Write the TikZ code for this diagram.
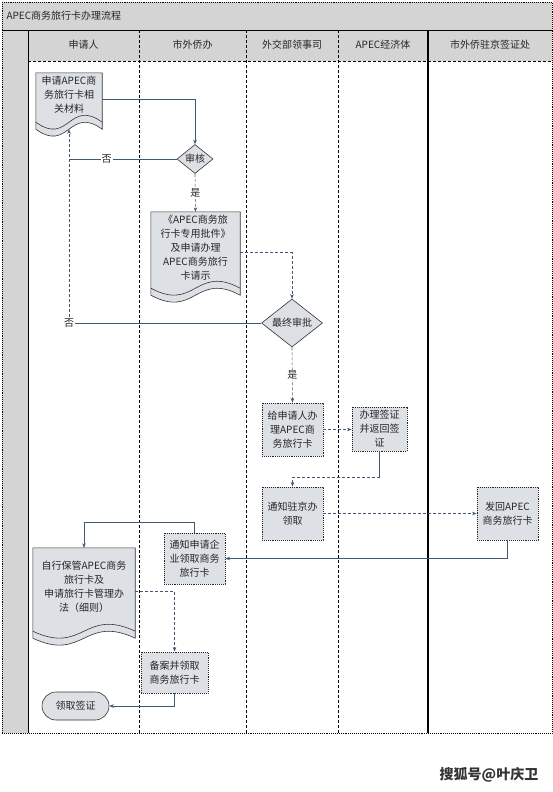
\documentclass[tikz,border=0pt]{standalone}
\usepackage{fontspec}
\setmainfont{Noto Sans CJK SC}
\usetikzlibrary{calc,arrows.meta,shapes.geometric}

\definecolor{panelgray}{RGB}{212,212,212}
\definecolor{boxgray}{RGB}{221,225,229}
\definecolor{flowline}{RGB}{64,88,116}

\pgfdeclarelayer{background}
\pgfsetlayers{background,main}

% wavy document outline drawn round a node
\newcommand{\docshape}[1]{%
  \filldraw[draw=black!80, fill=boxgray, line width=0.6pt]
    (#1.north west) -- (#1.north east) -- ([yshift=-12pt]#1.south east)
    .. controls ([yshift=12pt]#1.south) and ([yshift=-36pt]#1.south) .. ([yshift=-12pt]#1.south west) -- cycle;
  \draw[black!80, line width=0.6pt]
    ([yshift=-5pt]#1.south east)
    .. controls ([yshift=19pt]#1.south) and ([yshift=-29pt]#1.south) .. ([yshift=-5pt]#1.south west);
}

\begin{document}
\begin{tikzpicture}[x=1pt, y=-1pt, >={Stealth[length=4.5pt,width=3.5pt]},
    every node/.style={font=\fontsize{10pt}{14pt}\selectfont, text=black!85},
    proc/.style={draw=black!85, densely dotted, line width=0.9pt, fill=boxgray, align=center, inner sep=1pt},
    doc/.style={align=center, inner sep=0pt},
    decision/.style={diamond, draw=black!80, line width=0.6pt, fill=boxgray, inner sep=0pt},
    term/.style={draw=black!80, line width=0.6pt, fill=boxgray, rounded corners=14pt},
    flow/.style={draw=flowline, line width=0.6pt},
    dflow/.style={flow, densely dashed},
    lbl/.style={fill=white, inner sep=1pt},
    lane/.style={line width=0.9pt, densely dashed}]

    \useasboundingbox (0,0) rectangle (553,792);

    % Swimlane frame
    \begin{pgfonlayer}{background}
        \fill[white] (0,0) rectangle (553,792);
        \fill[panelgray] (2,2) rectangle (552,30);
        \fill[panelgray] (2,30) rectangle (28,733);
        \fill[panelgray] (28,30) rectangle (552,61);
        \draw[densely dotted, line width=0.9pt] (2,2) rectangle (552,733);
        \draw[line width=0.9pt] (2,30) -- (552,30);
        \draw[line width=0.9pt] (28,30) -- (28,733);
        \draw[lane] (28,61) -- (552,61);
        \foreach \x in {139,246,338}
            \draw[lane] (\x,30) -- (\x,733);
        \draw[line width=1.2pt] (428,30) -- (428,733);
    \end{pgfonlayer}

    % Title and lane headers
    \node[anchor=west] (title) at (3,16) {APEC商务旅行卡办理流程};
    \node (lane1) at (83.5,45) {申请人};
    \node (lane2) at (192.5,45) {市外侨办};
    \node (lane3) at (292,45) {外交部领事司};
    \node (lane4) at (383,45) {APEC经济体};
    \node (lane5) at (490,45) {市外侨驻京签证处};

    % Steps
    \node[doc, minimum width=66pt, minimum height=44pt] (apply) at (69,95)
        {申请APEC商\\务旅行卡相\\关材料};
    \node[decision, minimum width=36pt, minimum height=29pt, shape aspect=1.24] (review) at (195,159) {审核};
    \node[doc, minimum width=89pt, minimum height=71pt] (permit) at (195.5,247.5)
        {《APEC商务旅\\行卡专用批件》\\及申请办理\\APEC商务旅行\\卡请示};
    \node[decision, minimum width=61pt, minimum height=48pt, shape aspect=1.27] (approve) at (292,323) {最终审批};
    \node[proc, minimum width=61pt, minimum height=53pt] (issue) at (292.5,429.5)
        {给申请人办\\理APEC商\\务旅行卡};
    \node[proc, minimum width=55pt, minimum height=44pt] (visa) at (379.5,429)
        {办理签证\\并返回签\\证};
    \node[proc, minimum width=61pt, minimum height=53pt] (notice) at (292.5,513.5)
        {通知驻京办\\领取};
    \node[proc, minimum width=61pt, minimum height=53pt] (sendback) at (507.5,513.5)
        {发回APEC\\商务旅行卡};
    \node[proc, minimum width=61pt, minimum height=51pt] (inform) at (194.5,558.5)
        {通知申请企\\业领取商务\\旅行卡};
    \node[doc, minimum width=102pt, minimum height=78pt] (keep) at (84,587)
        {自行保管APEC商务\\旅行卡及\\申请旅行卡管理办\\法（细则）};
    \node[proc, minimum width=67pt, minimum height=41pt] (record) at (174.5,672.5)
        {备案并领取\\商务旅行卡};
    \node[term, minimum width=67pt, minimum height=28pt] (collect) at (75.5,706) {领取签证};

    \begin{pgfonlayer}{background}
        \foreach \docname in {apply,permit,keep}{
            \docshape{\docname}
        }
    \end{pgfonlayer}

    % Connectors
    \draw[flow,->] ([yshift=-4pt]apply.east) -| (review.north);
    \draw[flow] (review.west) -- node[lbl, pos=0.65] (no1) {否} (review.west -| apply.south);
    \draw[flow] (approve.west) -- (approve.west -| apply.south) node[lbl] (no2) {否};
    \draw[dflow,->] (no2) -- ([yshift=-12pt]apply.south);
    \draw[dflow,->] (review.south) -- node[lbl] (yes1) {是} (permit.north);
    \draw[dflow,->] ([yshift=-5pt]permit.east) -| (approve.north);
    \draw[dflow,->] (approve.south) -- node[lbl] (yes2) {是} (issue.north);
    \draw[dflow,->] (issue.east) -- (issue.east -| visa.west);
    \coordinate (visabend) at (visa.south |- 0,477);
    \draw[flow] (visa.south) -- (visabend);
    \draw[dflow,->] (visabend) -| (notice.north);
    \draw[dflow,->] (notice.east) -- (sendback.west);
    \draw[flow,->] (sendback.south) |- (inform.east);
    \draw[flow,->] (inform.north) -- ++(0,-10) -| (keep.north);
    \draw[dflow,->] ([yshift=-4pt]keep.east) -| (record.north);
    \draw[flow,->] (record.south) |- (collect.east);

    % Watermark
    \node[font=\fontsize{14pt}{14pt}\selectfont\bfseries, text=black!80] (mark) at (489,775) {搜狐号@叶庆卫};
\end{tikzpicture}
\end{document}
